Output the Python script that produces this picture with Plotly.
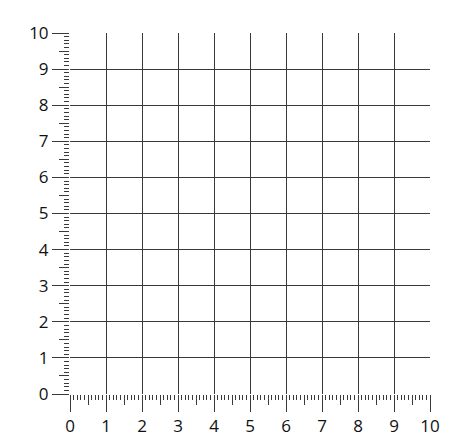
import plotly.graph_objects as go

x_range = [0, 10]
y_range = [0, 10]
tick_vals = list(range(0, 11))
half_vals = [i + 0.5 for i in range(10)]

line_col = "#3a3a3a"
font = dict(family="Open Sans, Liberation Sans, sans-serif", size=17, color="#111")

fig = go.Figure()
fig.add_trace(go.Scatter(x=x_range, y=y_range, mode="markers",
                         marker=dict(opacity=0), hoverinfo="skip", showlegend=False))

common = dict(
    range=[0, 10], tickmode="array", tickvals=tick_vals,
    showgrid=True, gridcolor=line_col, gridwidth=1,
    zeroline=False, showline=False, automargin=False,
    ticks="outside", ticklen=17, tickwidth=1, tickcolor=line_col,
    tickfont=font,
    minor=dict(dtick=0.1, ticks="outside", ticklen=5, tickwidth=1,
               tickcolor=line_col, showgrid=False),
)
fig.update_xaxes(**common)
fig.update_yaxes(**common)

# longer marks at the halves
half = dict(range=[0, 10], tickmode="array", tickvals=half_vals,
            ticks="outside", ticklen=10, tickwidth=1, tickcolor=line_col,
            showticklabels=False, showgrid=False, zeroline=False, showline=False,
            automargin=False)
fig.update_layout(
    xaxis2=dict(overlaying="x", anchor="y", side="bottom", **half),
    yaxis2=dict(overlaying="y", anchor="x", side="left", **half),
)
fig.add_trace(go.Scatter(x=x_range, y=y_range, xaxis="x2", yaxis="y2", mode="markers",
                         marker=dict(opacity=0), hoverinfo="skip", showlegend=False))

fig.update_layout(
    width=450, height=442,
    margin=dict(l=62, r=28, t=25, b=56, autoexpand=False),
    paper_bgcolor="white", plot_bgcolor="white",
)
fig.write_html("out.html")
